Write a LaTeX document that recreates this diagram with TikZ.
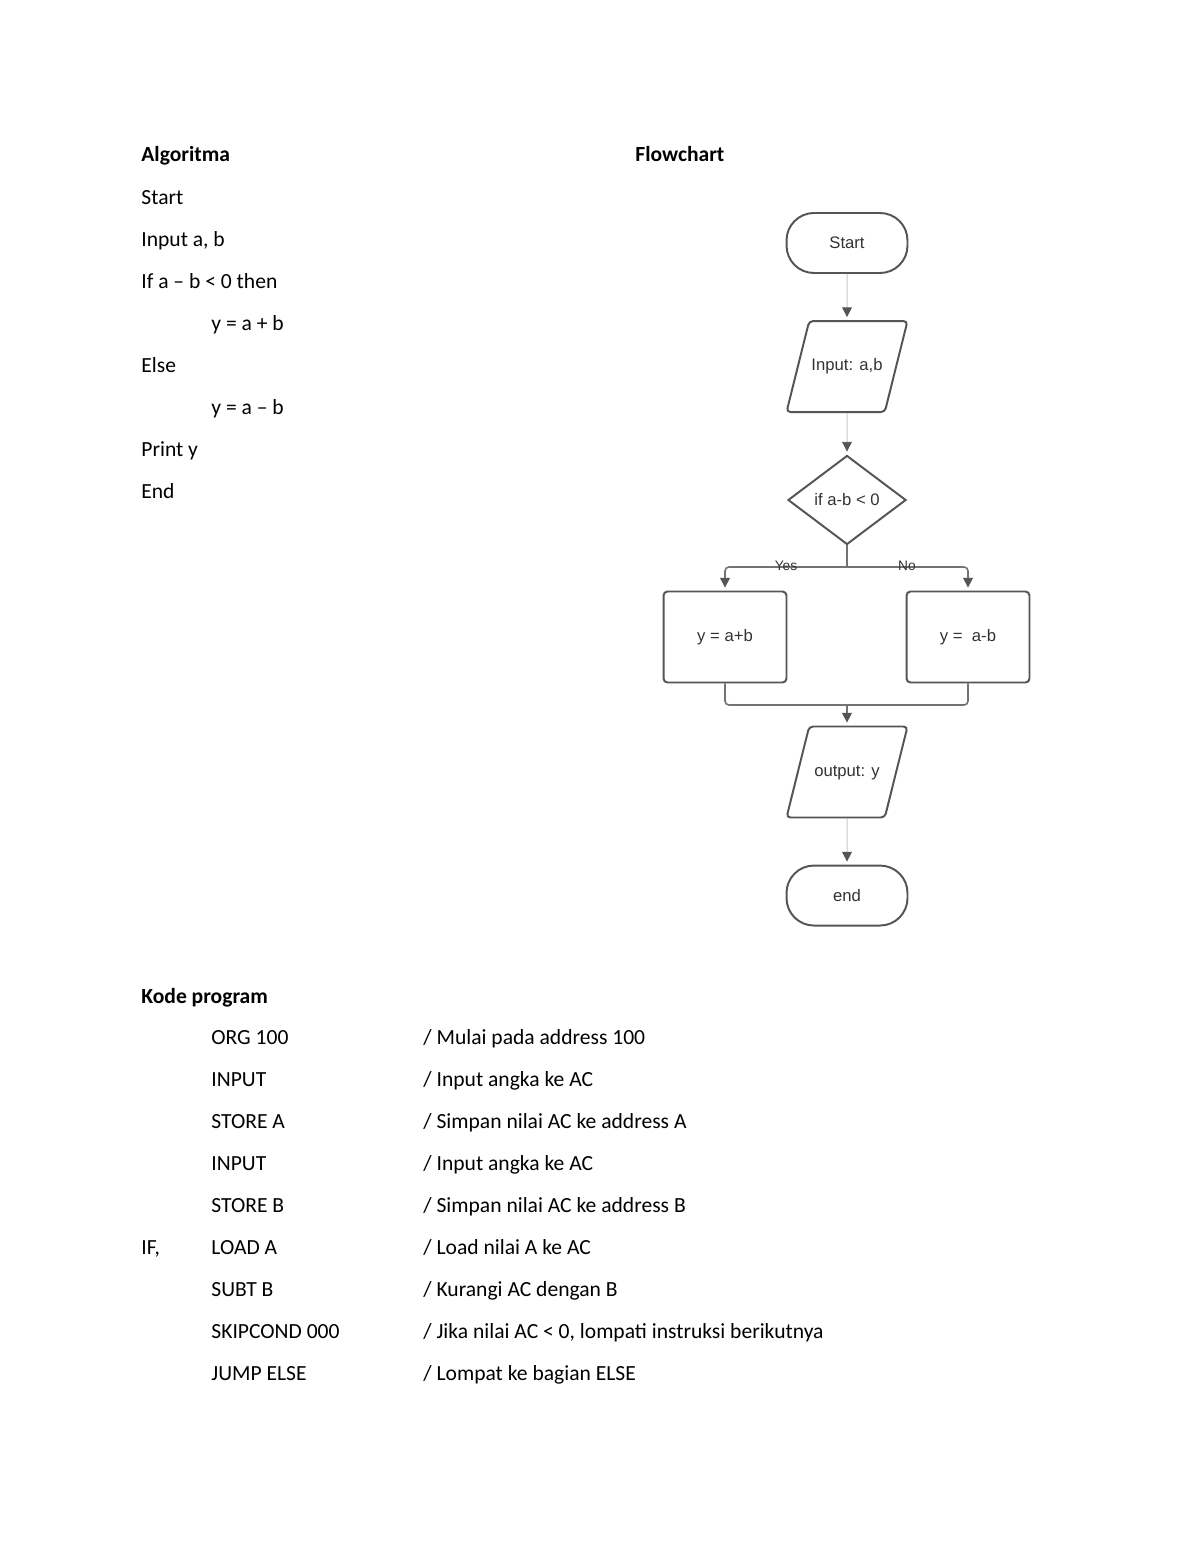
\documentclass[tikz,border=0pt]{standalone}
\usepackage{fontspec}
\setmainfont{Carlito}
\newfontfamily\flowfont{Liberation Sans}
\usepackage{xcolor}
\usetikzlibrary{arrows.meta,positioning,shapes.geometric}
\definecolor{shapeline}{HTML}{555555}
\definecolor{flowtext}{HTML}{333333}
\tikzset{
  txt/.style={anchor=base west, inner sep=0pt, font=\fontsize{11}{13}\selectfont},
  head/.style={txt, font=\fontsize{11}{13}\selectfont\bfseries},
  flowshape/.style={draw=shapeline, line width=1pt, align=center, text=flowtext, font=\flowfont\fontsize{8.5}{10}\selectfont},
  termbox/.style={flowshape, rectangle, rounded corners=14pt, minimum width=61.7pt, minimum height=30.6pt},
  iobox/.style={flowshape, trapezium, trapezium left angle=76, trapezium right angle=104, trapezium stretches body=true, rounded corners=2pt, minimum width=61.7pt, text height=6.2pt, text depth=1.8pt, inner ysep=19.2pt, inner xsep=0pt},
  procbox/.style={flowshape, rectangle, rounded corners=2pt, minimum width=62.7pt, minimum height=46.4pt},
  decbox/.style={flowshape, diamond, minimum width=60.2pt, minimum height=45.4pt, inner sep=1pt},
  yesno/.style={inner sep=0pt, text=flowtext, font=\flowfont\fontsize{7}{8}\selectfont},
  flowarrow/.style={draw=black!22, line width=0.5pt, -{Triangle[length=5pt,width=5pt,color=shapeline]}, shorten >=1.5pt},
  branchline/.style={draw=black!55, line width=0.8pt, rounded corners=2pt},
  brancharrow/.style={branchline, -{Triangle[length=5pt,width=5pt,color=shapeline]}, shorten >=1.5pt}
}

\begin{document}
\begin{tikzpicture}[x=0.51pt, y=-0.51pt, node distance=23.5pt]
\fill[white] (0,0) rectangle (1200,1553);
\useasboundingbox (0,0) rectangle (1200,1553);

% algoritma
\node[head] (alghead) at (141,162) {Algoritma};
\foreach \x/\t [count=\i] in {141/Start, 141/{Input a, b}, 141/{If a – b < 0 then}, 211/{y = a + b},
    141/Else, 211/{y = a – b}, 141/{Print y}, 141/End}
  \node[txt] (alg\i) at (\x,{204+42.1*(\i-1)}) {\t};

% flowchart
\node[head] (flowhead) at (635,162) {Flowchart};
\node[termbox] (start) at (847,243) {Start};
\node[iobox,below=of start] (inp) {Input: a,b};
\node[decbox] (dec) at (847,500) {if a-b < 0};
\node[procbox] (yes) at (725,637) {y = a+b};
\node[procbox] (no) at (968,637) {y = \ a-b};
\node[iobox] (out) at (847,772) {output: y};
\node[termbox,below=of out] (stop) {end};
\coordinate (split) at (847,567);
\coordinate (merge) at (847,705);
\draw[flowarrow] (start) -- (inp);
\draw[flowarrow] (inp) -- (dec);
\draw[branchline] (dec.south) -- (split);
\draw[brancharrow] (split) -| (yes.north);
\draw[brancharrow] (split) -| (no.north);
\node[yesno] (lyes) at (786,566) {Yes};
\node[yesno] (lno) at (907,566) {No};
\draw[branchline] (yes.south) |- (merge);
\draw[branchline] (no.south) |- (merge);
\draw[brancharrow] (merge) -- (out.north);
\draw[flowarrow] (out) -- (stop);

% kode program
\node[head] (kodehead) at (141,1003) {Kode program};
\foreach \ins/\com [count=\i] in {ORG 100/{/ Mulai pada address 100}, INPUT/{/ Input angka ke AC},
    STORE A/{/ Simpan nilai AC ke address A}, INPUT/{/ Input angka ke AC},
    STORE B/{/ Simpan nilai AC ke address B}, LOAD A/{/ Load nilai A ke AC},
    SUBT B/{/ Kurangi AC dengan B}, SKIPCOND 000/{/ Jika nilai AC < 0, lompati instruksi berikutnya},
    JUMP ELSE/{/ Lompat ke bagian ELSE}}{
  \node[txt] (ins\i) at (211,{1044+42*(\i-1)}) {\ins};
  \node[txt] (com\i) at (423,{1044+42*(\i-1)}) {\com};
}
\node[txt] (iflabel) at (141,1254) {IF,};
\end{tikzpicture}
\end{document}
